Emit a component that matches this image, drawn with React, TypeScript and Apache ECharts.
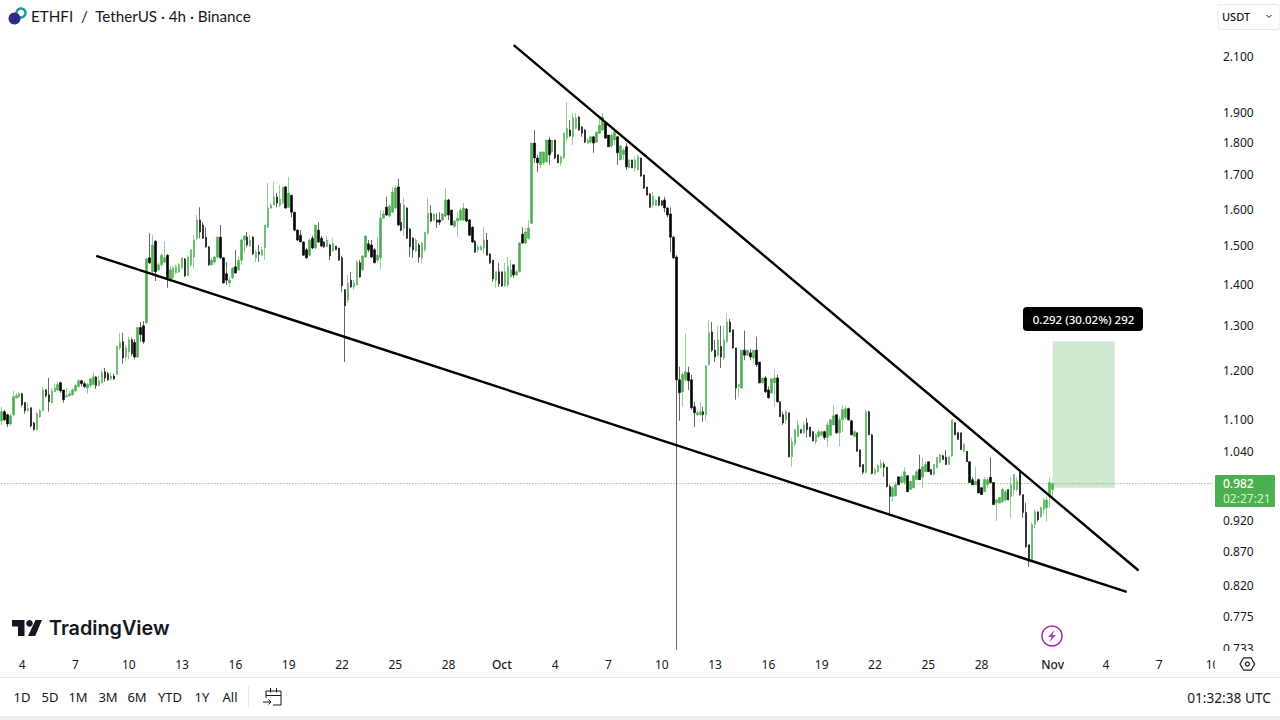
import React, { useEffect, useRef } from "react";
import * as echarts from "echarts";

const opens = [1.098,1.116,1.110,1.092,1.110,1.144,1.146,1.152,1.134,1.118,
1.124,1.094,1.081,1.106,1.118,1.160,1.150,1.134,1.156,1.160,
1.175,1.160,1.146,1.148,1.150,1.158,1.167,1.179,1.173,1.164,
1.169,1.171,1.187,1.169,1.175,1.198,1.194,1.183,1.189,1.192,
1.250,1.264,1.230,1.241,1.268,1.262,1.230,1.296,1.300,1.307,
1.467,1.431,1.511,1.436,1.449,1.456,1.474,1.410,1.416,1.428,
1.431,1.441,1.464,1.421,1.449,1.469,1.519,1.569,1.555,1.522,
1.496,1.449,1.456,1.469,1.522,1.467,1.426,1.403,1.416,1.444,
1.436,1.461,1.514,1.522,1.498,1.522,1.467,1.482,1.474,1.493,
1.549,1.603,1.611,1.635,1.611,1.617,1.664,1.605,1.640,1.591,
1.541,1.527,1.509,1.488,1.474,1.519,1.493,1.541,1.519,1.509,
1.496,1.501,1.485,1.498,1.493,1.467,1.386,1.361,1.410,1.393,
1.398,1.454,1.436,1.469,1.504,1.501,1.488,1.461,1.467,1.574,
1.605,1.580,1.591,1.603,1.664,1.563,1.547,1.603,1.544,1.519,
1.485,1.501,1.467,1.488,1.533,1.588,1.569,1.569,1.569,1.569,
1.580,1.626,1.597,1.552,1.566,1.569,1.569,1.600,1.569,1.549,
1.511,1.488,1.488,1.493,1.514,1.477,1.461,1.410,1.431,1.431,
1.396,1.398,1.418,1.449,1.423,1.431,1.530,1.506,1.519,1.560,
1.799,1.752,1.731,1.737,1.740,1.809,1.771,1.809,1.762,1.737,
1.752,1.815,1.841,1.819,1.847,1.884,1.851,1.841,1.799,1.802,
1.819,1.802,1.831,1.841,1.864,1.825,1.790,1.809,1.819,1.746,
1.762,1.787,1.721,1.746,1.721,1.715,1.752,1.700,1.664,1.643,
1.611,1.611,1.635,1.623,1.626,1.603,1.586,1.522,1.469,1.181,
1.156,1.181,1.196,1.181,1.126,1.110,1.110,1.116,1.110,1.213,
1.286,1.245,1.234,1.253,1.228,1.264,1.309,1.291,1.250,1.167,
1.164,1.245,1.234,1.239,1.228,1.245,1.219,1.175,1.185,1.160,
1.154,1.175,1.185,1.136,1.110,1.100,1.114,1.030,1.053,1.068,
1.081,1.075,1.094,1.086,1.077,1.058,1.068,1.070,1.077,1.066,
1.070,1.090,1.110,1.075,1.100,1.104,1.122,1.098,1.068,1.075,
1.043,1.016,1.002,1.116,1.071,1.000,1.003,1.011,1.016,1.011,
0.977,0.960,0.961,0.994,0.984,0.984,0.996,0.972,0.975,0.989,
1.007,0.993,1.003,1.021,1.007,0.998,1.011,1.020,1.032,1.029,
1.016,1.032,1.094,1.075,1.075,1.040,1.040,1.021,0.989,0.980,
0.989,0.975,0.968,0.980,0.993,0.984,0.949,0.949,0.951,0.954,
0.972,0.960,0.972,0.972,1.003,0.963,0.933,0.881,0.858,0.913,
0.934,0.926,0.938,0.941,0.960,0.972];

const closes = [1.116,1.100,1.092,1.108,1.146,1.148,1.152,1.130,1.118,1.122,
1.088,1.081,1.112,1.118,1.160,1.148,1.136,1.158,1.164,1.171,
1.158,1.140,1.148,1.152,1.160,1.169,1.179,1.173,1.167,1.171,
1.183,1.187,1.169,1.179,1.196,1.185,1.181,1.189,1.183,1.253,
1.262,1.228,1.250,1.268,1.237,1.230,1.296,1.280,1.264,1.464,
1.454,1.501,1.431,1.449,1.474,1.467,1.416,1.436,1.441,1.444,
1.449,1.467,1.421,1.469,1.488,1.514,1.569,1.536,1.519,1.496,
1.449,1.461,1.469,1.522,1.467,1.403,1.410,1.410,1.441,1.428,
1.461,1.514,1.525,1.501,1.514,1.477,1.482,1.477,1.488,1.555,
1.603,1.611,1.635,1.617,1.629,1.664,1.603,1.646,1.591,1.541,
1.514,1.509,1.474,1.467,1.514,1.493,1.555,1.509,1.498,1.496,
1.514,1.472,1.504,1.488,1.461,1.396,1.347,1.403,1.393,1.403,
1.456,1.418,1.472,1.525,1.488,1.469,1.454,1.474,1.574,1.586,
1.583,1.608,1.649,1.661,1.555,1.541,1.611,1.519,1.496,1.488,
1.514,1.469,1.506,1.536,1.588,1.566,1.586,1.563,1.563,1.586,
1.626,1.583,1.555,1.566,1.574,1.597,1.603,1.566,1.527,1.509,
1.482,1.496,1.496,1.514,1.474,1.454,1.413,1.431,1.401,1.396,
1.431,1.444,1.436,1.423,1.431,1.506,1.506,1.536,1.547,1.799,
1.752,1.737,1.771,1.771,1.809,1.762,1.809,1.752,1.737,1.756,
1.831,1.847,1.822,1.881,1.881,1.841,1.831,1.802,1.809,1.819,
1.799,1.834,1.857,1.884,1.815,1.787,1.825,1.834,1.768,1.790,
1.777,1.724,1.746,1.721,1.746,1.756,1.697,1.661,1.640,1.605,
1.637,1.626,1.611,1.611,1.603,1.583,1.522,1.467,1.181,1.154,
1.192,1.198,1.179,1.124,1.114,1.114,1.116,1.110,1.211,1.284,
1.245,1.230,1.268,1.230,1.268,1.309,1.286,1.250,1.164,1.171,
1.245,1.234,1.245,1.230,1.245,1.213,1.175,1.185,1.156,1.144,
1.183,1.185,1.136,1.106,1.094,1.116,1.030,1.058,1.081,1.090,
1.075,1.090,1.081,1.068,1.060,1.071,1.077,1.077,1.066,1.090,
1.100,1.108,1.075,1.100,1.120,1.122,1.100,1.071,1.077,1.040,
1.012,1.002,1.116,1.071,1.000,1.007,1.014,1.018,1.011,0.977,
0.960,0.975,0.980,0.980,0.994,1.003,0.968,0.986,0.996,1.003,
0.989,1.012,1.016,1.003,0.998,1.016,1.029,1.034,1.025,1.016,
1.030,1.100,1.071,1.062,1.043,1.053,1.021,0.984,0.980,0.986,
0.966,0.963,0.989,0.989,0.984,0.946,0.954,0.958,0.972,0.968,
0.954,0.980,0.998,0.986,0.963,0.933,0.878,0.856,0.913,0.934,
0.921,0.941,0.954,0.954,0.984,0.982];

const highs = [1.126,1.120,1.112,1.112,1.158,1.154,1.156,1.154,1.136,1.134,
1.124,1.096,1.116,1.122,1.167,1.162,1.185,1.164,1.173,1.177,
1.177,1.160,1.164,1.158,1.164,1.173,1.183,1.181,1.177,1.175,
1.185,1.196,1.189,1.189,1.202,1.206,1.198,1.198,1.194,1.255,
1.284,1.284,1.257,1.275,1.273,1.270,1.298,1.309,1.311,1.467,
1.533,1.527,1.514,1.456,1.480,1.511,1.477,1.446,1.446,1.449,
1.454,1.467,1.467,1.474,1.488,1.527,1.583,1.605,1.563,1.549,
1.498,1.467,1.472,1.525,1.555,1.469,1.456,1.418,1.444,1.488,
1.469,1.519,1.527,1.536,1.527,1.525,1.488,1.501,1.496,1.555,
1.676,1.617,1.679,1.646,1.670,1.664,1.667,1.694,1.640,1.591,
1.544,1.541,1.511,1.493,1.519,1.525,1.555,1.563,1.525,1.511,
1.527,1.504,1.519,1.498,1.493,1.472,1.388,1.423,1.431,1.410,
1.461,1.461,1.474,1.527,1.514,1.514,1.493,1.522,1.597,1.597,
1.635,1.614,1.664,1.670,1.688,1.617,1.632,1.605,1.547,1.522,
1.519,1.506,1.509,1.536,1.632,1.611,1.588,1.588,1.591,1.588,
1.661,1.629,1.597,1.569,1.591,1.603,1.617,1.603,1.572,1.552,
1.514,1.501,1.501,1.549,1.533,1.480,1.461,1.431,1.454,1.431,
1.454,1.469,1.461,1.449,1.436,1.509,1.549,1.547,1.569,1.799,
1.841,1.762,1.771,1.771,1.809,1.819,1.809,1.809,1.762,1.759,
1.834,1.935,1.874,1.898,1.898,1.888,1.854,1.844,1.815,1.822,
1.822,1.838,1.881,1.898,1.864,1.825,1.831,1.847,1.822,1.793,
1.784,1.799,1.746,1.746,1.756,1.762,1.752,1.700,1.664,1.646,
1.649,1.629,1.635,1.626,1.635,1.605,1.605,1.525,1.474,1.209,
1.196,1.282,1.209,1.192,1.136,1.118,1.136,1.126,1.213,1.314,
1.309,1.268,1.300,1.300,1.300,1.328,1.316,1.291,1.250,1.171,
1.245,1.289,1.245,1.248,1.245,1.275,1.219,1.185,1.189,1.167,
1.185,1.202,1.192,1.136,1.116,1.120,1.114,1.066,1.081,1.100,
1.081,1.096,1.104,1.086,1.079,1.075,1.081,1.079,1.079,1.096,
1.100,1.130,1.110,1.106,1.130,1.128,1.124,1.100,1.081,1.075,
1.043,1.016,1.120,1.118,1.073,1.011,1.016,1.025,1.021,1.012,
0.980,0.977,0.984,0.994,0.998,1.011,0.996,0.987,0.998,1.007,
1.034,1.029,1.021,1.021,1.007,1.016,1.029,1.034,1.034,1.043,
1.030,1.100,1.096,1.077,1.075,1.056,1.040,1.021,0.993,1.011,
0.991,0.975,0.993,0.993,1.029,0.984,0.954,0.958,0.975,0.972,
0.972,0.994,0.998,0.993,1.005,0.963,0.949,0.881,0.916,0.938,
0.934,0.943,0.958,0.960,0.993,0.984];

const lows = [1.090,1.098,1.086,1.088,1.106,1.142,1.144,1.126,1.112,1.116,
1.085,1.079,1.079,1.104,1.116,1.144,1.116,1.132,1.156,1.158,
1.154,1.134,1.144,1.146,1.148,1.156,1.164,1.167,1.164,1.152,
1.164,1.169,1.162,1.167,1.173,1.177,1.179,1.179,1.181,1.192,
1.245,1.215,1.221,1.225,1.232,1.225,1.228,1.264,1.259,1.305,
1.451,1.428,1.408,1.433,1.444,1.454,1.391,1.406,1.413,1.426,
1.428,1.439,1.418,1.421,1.444,1.439,1.514,1.519,1.517,1.493,
1.446,1.446,1.449,1.464,1.464,1.401,1.398,1.393,1.413,1.426,
1.433,1.449,1.480,1.496,1.496,1.474,1.456,1.456,1.472,1.461,
1.547,1.600,1.611,1.605,1.605,1.614,1.600,1.603,1.577,1.538,
1.511,1.509,1.472,1.464,1.472,1.490,1.488,1.506,1.496,1.493,
1.496,1.461,1.482,1.488,1.459,1.381,1.219,1.354,1.391,1.386,
1.398,1.416,1.433,1.467,1.482,1.467,1.454,1.454,1.436,1.574,
1.580,1.577,1.588,1.600,1.552,1.538,1.525,1.517,1.469,1.467,
1.482,1.454,1.454,1.482,1.527,1.563,1.566,1.547,1.555,1.566,
1.577,1.569,1.555,1.547,1.522,1.566,1.566,1.563,1.525,1.506,
1.480,1.480,1.488,1.477,1.474,1.451,1.406,1.391,1.393,1.393,
1.393,1.393,1.418,1.416,1.421,1.431,1.504,1.504,1.514,1.558,
1.737,1.709,1.721,1.731,1.737,1.731,1.768,1.749,1.737,1.727,
1.749,1.805,1.819,1.793,1.844,1.838,1.819,1.799,1.796,1.799,
1.768,1.802,1.828,1.838,1.812,1.787,1.784,1.793,1.731,1.746,
1.746,1.715,1.721,1.721,1.709,1.715,1.694,1.658,1.640,1.603,
1.603,1.608,1.608,1.608,1.591,1.577,1.482,1.464,0.731,1.098,
1.126,1.177,1.160,1.120,1.086,1.108,1.108,1.096,1.098,1.211,
1.241,1.219,1.230,1.206,1.223,1.262,1.284,1.248,1.140,1.144,
1.162,1.223,1.232,1.223,1.217,1.209,1.173,1.173,1.154,1.142,
1.152,1.126,1.134,1.106,1.090,1.092,1.029,1.012,1.049,1.068,
1.073,1.073,1.066,1.068,1.058,1.053,1.064,1.068,1.062,1.049,
1.068,1.090,1.073,1.049,1.077,1.100,1.098,1.070,1.066,1.040,
1.011,0.998,1.000,1.070,0.998,0.998,1.002,1.009,0.994,0.975,
0.929,0.951,0.960,0.980,0.982,0.980,0.968,0.972,0.973,0.989,
0.989,0.975,1.003,1.003,0.998,0.996,1.009,1.018,1.025,1.016,
1.016,1.030,1.071,1.062,1.043,1.038,1.021,0.984,0.980,0.980,
0.966,0.963,0.968,0.975,0.982,0.946,0.919,0.948,0.949,0.951,
0.954,0.924,0.960,0.968,0.961,0.924,0.876,0.847,0.856,0.907,
0.918,0.924,0.931,0.918,0.941,0.954];

const priceTicks = [2.1, 1.9, 1.8, 1.7, 1.6, 1.5, 1.4, 1.3, 1.2, 1.1, 1.04, 0.92, 0.87, 0.82, 0.775, 0.733];
const dateTickKeys = ["09-04","09-07","09-10","09-13","09-16","09-19","09-22","09-25","09-28","10-01","10-04","10-07","10-10","10-13","10-16","10-19","10-22","10-25","10-28","11-01","11-04","11-07","11-10"];
const dateTickTexts = ["4","7","10","13","16","19","22","25","28","Oct","4","7","10","13","16","19","22","25","28","Nov","4","7","10"];
const rangeButtons = ["1D","5D","1M","3M","6M","YTD","1Y","All"];
const lastPrice = 0.982;
const targetPrice = 1.265;
const baseOfTarget = 0.975;
const upperTrend = [[173, 2.141], [384, 0.8415]];
const lowerTrend = [[32, 1.472], [380, 0.81]];

const CATEGORY_COUNT = 410;
const START_UTC = Date.UTC(2025, 8, 2, 20);
const pad = (n: number) => String(n).padStart(2, "0");
const categories: string[] = [];
for (let i = 0; i < CATEGORY_COUNT; i++) {
  const d = new Date(START_UTC + i * 4 * 3600 * 1000);
  categories.push(`${pad(d.getUTCMonth() + 1)}-${pad(d.getUTCDate())} ${pad(d.getUTCHours())}`);
}
const tickLookup: Record<string, string> = {};
dateTickKeys.forEach((k, i) => { tickLookup[k + " 00"] = dateTickTexts[i]; });

const FONT = "'Noto Sans', sans-serif";
const INK = "#131722";
const GREEN = "#4caf50";

const rangeX = [22, 50, 78, 108, 137, 170, 202, 230];

function buildGraphic() {
  const els: any[] = [];
  const Z = 100;
  const txt = (text: string, x: number, y: number, o: any = {}) =>
    els.push({ type: "text", x, y, z: o.z ?? Z, style: { text, fill: o.fill ?? INK, font: `${o.weight ?? 400} ${o.size ?? 13}px ${o.family ?? FONT}`, align: o.align ?? "left", verticalAlign: "middle", lineHeight: o.lineHeight } });
  const line = (x1: number, y1: number, x2: number, y2: number, stroke: string, lineWidth = 1) =>
    els.push({ type: "line", z: Z, shape: { x1, y1, x2, y2 }, style: { stroke, lineWidth } });

  // cover clipping the axis labels at the pane's corner
  els.push({ type: "rect", z: 50, shape: { x: 1215, y: 651, width: 65, height: 26 }, style: { fill: "#fff" } });

  // header
  els.push({ type: "arc", z: Z, shape: { cx: 21, cy: 13, r: 4.5, startAngle: -Math.PI, endAngle: Math.PI * 0.6 }, style: { stroke: "#1f9d9a", fill: "none", lineWidth: 2.6 } });
  els.push({ type: "circle", z: Z + 1, shape: { cx: 14.5, cy: 18.5, r: 6 }, style: { fill: "#2b2a8c" } });
  txt("ETHFI  /  TetherUS · 4h · Binance", 31, 15.5, { size: 15.2, family: "Lato, sans-serif" });

  // currency button
  els.push({ type: "rect", z: Z, shape: { x: 1218, y: 4.5, width: 62, height: 25, r: 3 }, style: { fill: "#fff", stroke: "#e8e9ee", lineWidth: 1 } });
  txt("USDT", 1222, 16, { size: 11, weight: 500 });
  els.push({ type: "polyline", z: Z, shape: { points: [[1266.5, 15], [1269, 17.5], [1271.5, 15]] }, style: { stroke: INK, fill: "none", lineWidth: 1 } });

  // measure box
  els.push({ type: "rect", z: Z, shape: { x: 1023, y: 307, width: 120, height: 24, r: 4 }, style: { fill: "#000" } });
  txt("0.292 (30.02%) 292", 1083.5, 319, { size: 11.5, fill: "#fff", align: "center", weight: 500 });

  // last price tag
  els.push({ type: "rect", z: Z, shape: { x: 1215, y: 475, width: 60, height: 32, r: 1 }, style: { fill: GREEN } });
  txt("0.982", 1223, 483.5, { size: 12, fill: "#fff", weight: 500, lineHeight: 13 });
  txt("02:27:21", 1223, 498, { size: 12, fill: "#d8f0d9", lineHeight: 13 });

  // TradingView mark
  els.push({ type: "polygon", z: Z, shape: { points: [[12, 620], [24.5, 620], [24.5, 636], [18, 636], [18, 626.5], [12, 626.5]] }, style: { fill: "#131722" } });
  els.push({ type: "circle", z: Z, shape: { cx: 29.5, cy: 623.3, r: 3.3 }, style: { fill: "#131722" } });
  els.push({ type: "polygon", z: Z, shape: { points: [[35.5, 620], [42, 620], [35.2, 636], [28, 636]] }, style: { fill: "#131722" } });
  txt("TradingView", 49, 628, { size: 19.8, weight: 600, family: "Inter, sans-serif" });

  // bolt badge
  els.push({ type: "circle", z: Z, shape: { cx: 1052, cy: 636, r: 10 }, style: { fill: "#fff", stroke: "#9c27b0", lineWidth: 1.5 } });
  els.push({ type: "polygon", z: Z, shape: { points: [[1054.5, 630], [1048, 637], [1051.5, 637], [1049.5, 642], [1056, 635], [1052.5, 635]] }, style: { fill: "#9c4dac" } });

  // settings gear
  els.push({ type: "polygon", z: Z, shape: { points: [[1240, 664], [1243.7, 657.8], [1251, 657.8], [1254.7, 664], [1251, 670.2], [1243.7, 670.2]] }, style: { fill: "#fff", stroke: INK, lineWidth: 1.2 } });
  els.push({ type: "circle", z: Z, shape: { cx: 1247.4, cy: 664, r: 2 }, style: { fill: "#fff", stroke: INK, lineWidth: 1.2 } });

  // bottom toolbar
  line(0, 677.5, 1280, 677.5, "#e6e8ee");
  els.push({ type: "rect", z: Z, shape: { x: 0, y: 716, width: 1280, height: 4 }, style: { fill: "#ededed" } });
  rangeButtons.forEach((b, i) => txt(b, rangeX[i], 697, { size: 13, align: "center" }));
  line(248.5, 686, 248.5, 708, "#e6e8ee");
  els.push({ type: "polyline", z: Z, shape: { points: [[266, 698], [266, 691], [281, 691], [281, 705], [273, 705]] }, style: { stroke: INK, fill: "none", lineWidth: 1 } });
  line(266, 695.5, 281, 695.5, INK);
  line(270.5, 688, 270.5, 692.5, INK);
  line(276.5, 688, 276.5, 692.5, INK);
  line(263, 702, 271, 702, INK);
  els.push({ type: "polyline", z: Z, shape: { points: [[268.5, 699.5], [271, 702], [268.5, 704.5]] }, style: { stroke: INK, fill: "none", lineWidth: 1 } });
  txt("01:32:38 UTC", 1271, 697, { size: 13.7, align: "right" });
  return els;
}

export default function App() {
  const ref = useRef<HTMLDivElement>(null);
  useEffect(() => {
    const chart = echarts.init(ref.current!, null, { renderer: "svg" });
    const candles = opens.map((o, i) => [o, closes[i], lows[i], highs[i]]);
    chart.setOption({
      animation: false,
      backgroundColor: "#fff",
      grid: { left: -0.78, top: 0, width: 1214.8, height: 651 },
      xAxis: {
        type: "category",
        data: categories,
        boundaryGap: true,
        axisLine: { show: false },
        axisTick: { show: false },
        splitLine: { show: false },
        axisLabel: {
          show: true,
          margin: 7,
          fontFamily: FONT,
          fontSize: 12,
          color: INK,
          interval: (_: number, value: string) => value in tickLookup,
          formatter: (value: string) => {
            const t = tickLookup[value] ?? "";
            return t === "Oct" || t === "Nov" ? `{b|${t}}` : t;
          },
          rich: { b: { fontFamily: FONT, fontSize: 12, fontWeight: 500, color: INK } },
        },
      },
      yAxis: {
        type: "log",
        logBase: 10,
        min: 0.7293,
        max: 2.32,
        axisLine: { show: false },
        axisTick: { show: false },
        axisLabel: { show: false },
        splitLine: { show: false },
        minorSplitLine: { show: false },
      },
      series: [
        {
          type: "line",
          name: "last",
          data: [[0, lastPrice], [409, lastPrice]],
          symbol: "none",
          silent: true,
          z: 1,
          lineStyle: { color: GREEN, width: 1, type: [1, 2] },
          markArea: {
            silent: true,
            itemStyle: { color: "#cfe9d0" },
            data: [[{ xAxis: 355, yAxis: targetPrice }, { xAxis: 376, yAxis: baseOfTarget }]],
          },
        },
        {
          type: "candlestick",
          data: candles,
          barWidth: 2,
          z: 2,
          itemStyle: { color: GREEN, color0: "#000", borderColor: GREEN, borderColor0: "#000", borderWidth: 0.6 },
        },
        {
          type: "line", data: upperTrend, symbol: "none", silent: true, z: 3,
          lineStyle: { color: "#000", width: 2.4 },
        },
        {
          type: "line", data: lowerTrend, symbol: "none", silent: true, z: 3,
          lineStyle: { color: "#000", width: 2.4 },
        },
        {
          type: "custom",
          data: priceTicks.map((p) => [0, p]),
          clip: false,
          silent: true,
          z: 4,
          encode: { x: 0, y: 1 },
          renderItem: (_: any, api: any) => {
            const p = api.value(1);
            const y = api.coord([0, p])[1];
            return {
              type: "text",
              x: 1223,
              y,
              style: { text: p.toFixed(3), fill: INK, font: `12px ${FONT}`, align: "left", verticalAlign: "middle" },
            };
          },
        },
      ],
      graphic: { elements: buildGraphic() },
    });
    return () => chart.dispose();
  }, []);
  return <div ref={ref} style={{ position: "fixed", left: 0, top: 0, width: 1280, height: 720, background: "#fff" }} />;
}
